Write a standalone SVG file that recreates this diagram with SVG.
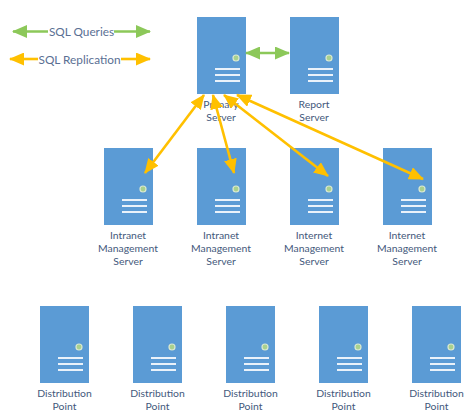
<svg xmlns="http://www.w3.org/2000/svg" width="474" height="420" viewBox="0 0 474 420">
<defs>
<style>
.body{fill:#5b9bd5}
.dot{fill:#a9d18e;stroke:#dbe9d0;stroke-width:1.2}
.bar{stroke:#eaf2fa;stroke-width:2;fill:none}
text{font-family:Lato,"Open Sans",sans-serif;font-size:10.4px;fill:#44597c;text-anchor:middle}
.leg{font-size:11.8px;fill:#5a6f93}
.o{stroke:#ffc000;stroke-width:2.6;fill:none}
.gs{stroke:#8cc859;stroke-width:2.6;fill:none}
</style>
<marker id="ho" viewBox="0 0 15 13" refX="14" refY="6.500" markerWidth="15" markerHeight="13" markerUnits="userSpaceOnUse" orient="auto-start-reverse"><path d="M0 0L15 6.500L0 13z" fill="#ffc000"/></marker>
<marker id="hg" viewBox="0 0 15 13" refX="14" refY="6.500" markerWidth="15" markerHeight="13" markerUnits="userSpaceOnUse" orient="auto-start-reverse"><path d="M0 0L15 6.500L0 13z" fill="#8cc859"/></marker>
<g id="srv"><rect class="body" width="49" height="77"/><circle class="dot" cx="39" cy="41" r="3"/><path class="bar" d="M18 52H43M18 58H43M18 64H43"/></g>
</defs>
<rect width="474" height="420" fill="#fff"/>
<g id="primary"><use href="#srv" x="197" y="17"/><text x="221" y="108">Primary</text><text x="221" y="121">Server</text></g>
<g id="report"><use href="#srv" x="290" y="17"/><text x="314" y="108">Report</text><text x="314" y="121">Server</text></g>
<g id="intranet1"><use href="#srv" x="104" y="148"/><text x="128" y="239">Intranet</text><text x="128" y="252">Management</text><text x="128" y="265">Server</text></g>
<g id="intranet2"><use href="#srv" x="197" y="148"/><text x="221" y="239">Intranet</text><text x="221" y="252">Management</text><text x="221" y="265">Server</text></g>
<g id="internet1"><use href="#srv" x="290" y="148"/><text x="314" y="239">Internet</text><text x="314" y="252">Management</text><text x="314" y="265">Server</text></g>
<g id="internet2"><use href="#srv" x="383" y="148"/><text x="407" y="239">Internet</text><text x="407" y="252">Management</text><text x="407" y="265">Server</text></g>
<g id="dp1"><use href="#srv" x="40" y="306"/><text x="64.500" y="397">Distribution</text><text x="64.500" y="410">Point</text></g>
<g id="dp2"><use href="#srv" x="133" y="306"/><text x="157.500" y="397">Distribution</text><text x="157.500" y="410">Point</text></g>
<g id="dp3"><use href="#srv" x="226" y="306"/><text x="250.500" y="397">Distribution</text><text x="250.500" y="410">Point</text></g>
<g id="dp4"><use href="#srv" x="319" y="306"/><text x="343.500" y="397">Distribution</text><text x="343.500" y="410">Point</text></g>
<g id="dp5"><use href="#srv" x="412" y="306"/><text x="436.500" y="397">Distribution</text><text x="436.500" y="410">Point</text></g>
<g id="legend"><text class="leg" x="81.500" y="35.500">SQL Queries</text><text class="leg" x="79.500" y="63.500">SQL Replication</text></g>
<g id="connectors">
<path class="gs" marker-end="url(#hg)" d="M48 31.500H13"/><path class="gs" marker-end="url(#hg)" d="M114 31.500H150"/>
<path class="o" marker-end="url(#ho)" d="M38 59H10"/><path class="o" marker-end="url(#ho)" d="M121 59H150"/>
<path class="gs" marker-start="url(#hg)" marker-end="url(#hg)" d="M246 53H289"/>
<path class="o" marker-start="url(#ho)" marker-end="url(#ho)" d="M204 95L145 173"/>
<path class="o" marker-start="url(#ho)" marker-end="url(#ho)" d="M213 95L234 173"/>
<path class="o" marker-start="url(#ho)" marker-end="url(#ho)" d="M224 95L328 176"/>
<path class="o" marker-start="url(#ho)" marker-end="url(#ho)" d="M237 95L423 179"/>
</g>
</svg>
